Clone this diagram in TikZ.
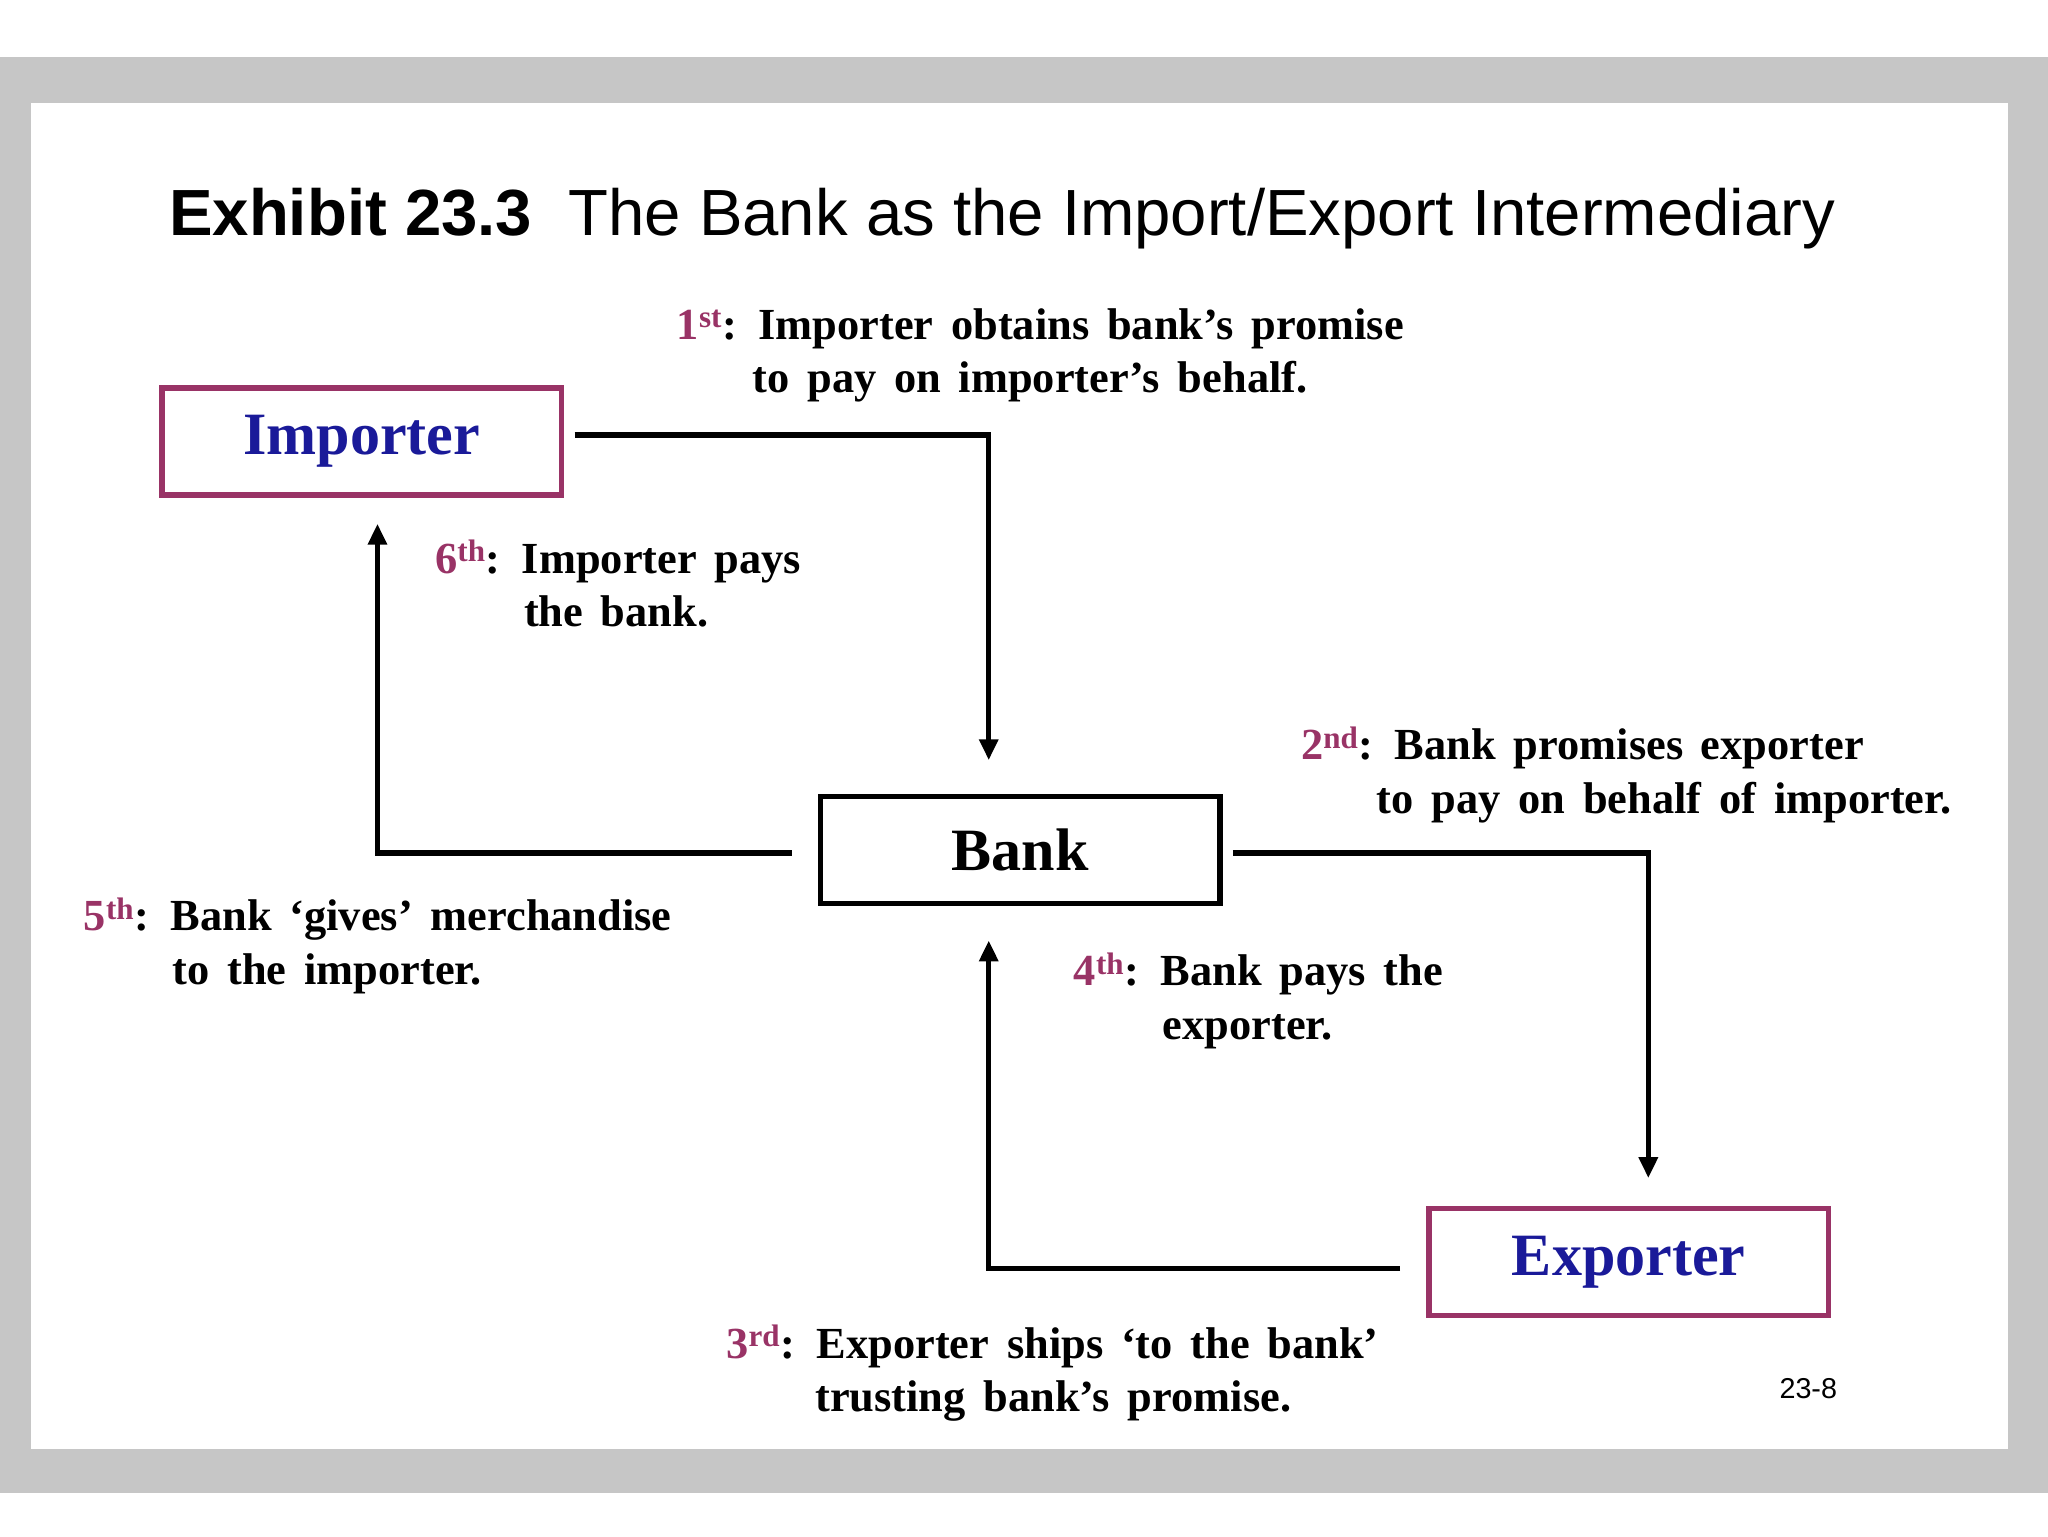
\documentclass[tikz,border=0pt]{standalone}
\usepackage{fontspec}
\setmainfont{Liberation Serif}[WordSpace={1.6}]
\setsansfont{Liberation Sans}
\usetikzlibrary{arrows.meta}
\definecolor{pur}{HTML}{993366}
\definecolor{blu}{HTML}{1A1A99}
\tikzset{x=1pt,y=-1pt,
 party/.style={draw=pur,line width=4pt,minimum width=306pt,minimum height=82pt,font=\fontsize{46}{46}\selectfont\bfseries,text=blu},
 bankbox/.style={draw=black,line width=4pt,minimum width=306pt,minimum height=82pt,font=\fontsize{46}{46}\selectfont\bfseries},
 flow/.style={line width=4pt,-{Triangle[length=16pt,width=14pt]}},
 lab/.style={align=left,anchor=north west,font=\fontsize{34}{41}\selectfont\bfseries,inner sep=0pt}}
\newcommand{\nm}[2]{\textcolor{pur}{#1\textsuperscript{#2}}}
\begin{document}
\begin{tikzpicture}
\useasboundingbox (0,0) rectangle (1568,1176);
\fill[white] (0,0) rectangle (1568,1176);
\fill[gray!45] (0,44) rectangle (1568,1143);
\fill[white] (24,79) rectangle (1537,1109);
\node[anchor=west,font=\sffamily\fontsize{50}{50}\selectfont] (title) at (126,167) {\textbf{Exhibit 23.3}\ \ The Bank as the Import/Export Intermediary};
\node[party] (imp) at (277,338) {Importer};
\node[bankbox] (bank) at (781,651) {Bank};
\node[party] (exp) at (1247,966) {Exporter};
\coordinate (s1) at (440,333); \coordinate (c1) at (757,333); \coordinate (e1) at (757,582);
\coordinate (s2) at (944,653); \coordinate (c2) at (1262,653); \coordinate (e2) at (1262,902);
\coordinate (s3) at (1072,971); \coordinate (c3) at (757,971); \coordinate (e3) at (757,720);
\coordinate (s4) at (606,653); \coordinate (c4) at (289,653); \coordinate (e4) at (289,401);
\draw[flow] (s1) -- (c1) -- (e1);
\draw[flow] (s2) -- (c2) -- (e2);
\draw[flow] (s3) -- (c3) -- (e3);
\draw[flow] (s4) -- (c4) -- (e4);
\node[lab] (l1) at (518,236) {\nm{1}{st}: Importer obtains bank’s promise\\\hspace*{58pt}to pay on importer’s behalf.};
\node[lab] (l2) at (996,556) {\nm{2}{nd}: Bank promises exporter\\\hspace*{58pt}to pay on behalf of importer.};
\node[lab] (l3) at (556,1014) {\nm{3}{rd}: Exporter ships ‘to the bank’\\\hspace*{68pt}trusting bank’s promise.};
\node[lab] (l4) at (822,729) {\nm{4}{th}: Bank pays the\\\hspace*{68pt}exporter.};
\node[lab] (l5) at (64,687) {\nm{5}{th}: Bank ‘gives’ merchandise\\\hspace*{68pt}to the importer.};
\node[lab] (l6) at (333,413) {\nm{6}{th}: Importer pays\\\hspace*{68pt}the bank.};
\node[font=\sffamily\fontsize{22}{22}\selectfont,anchor=east] (pg) at (1410,1063) {23-8};
\end{tikzpicture}
\end{document}
